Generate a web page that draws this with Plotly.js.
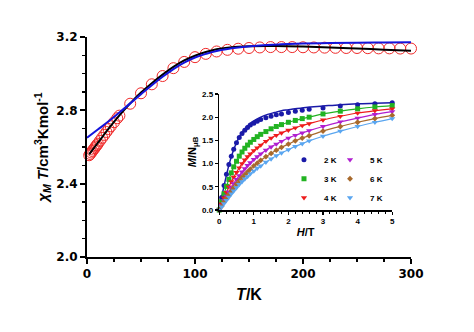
<!DOCTYPE html>
<html>
<head>
<meta charset="utf-8">
<script src="https://cdn.plot.ly/plotly-3.0.1.min.js"></script>
<style>html,body{margin:0;padding:0;background:#fff;}#chart{width:474px;height:332px;}</style>
</head>
<body>
<div id="chart"></div>
<script>
// ---- Main plot: chi_M T vs T ----
const tempK = [2,3,4,5,6,7,8,9,10,12,14,16,18,20,22,25,28,30,40,50,60,70,80,90,100,110,120,130,140,150,160,170,180,190,200,210,220,230,240,250,260,270,280,290,300];
const chiT = [2.555,2.562,2.570,2.578,2.586,2.594,2.602,2.610,2.618,2.634,2.650,2.666,2.682,2.698,2.713,2.735,2.757,2.771,2.836,2.893,2.942,2.987,3.030,3.064,3.090,3.108,3.121,3.130,3.136,3.140,3.143,3.145,3.145,3.145,3.144,3.143,3.142,3.141,3.140,3.140,3.139,3.138,3.138,3.137,3.137];
const fitT = [2,5,10,15,20,30,40,50,60,70,80,90,100,110,120,130,140,150,175,200,225,250,275,300];
const fitBlack = [2.56,2.583,2.622,2.661,2.70,2.772,2.838,2.897,2.948,2.995,3.037,3.072,3.098,3.118,3.133,3.142,3.147,3.150,3.151,3.148,3.143,3.137,3.131,3.125];
const blueT = [0,10,20,30,40,50,60,70,80,90,100,110,120,140,160,180,200,225,250,275,300];
const fitBlue = [2.65,2.695,2.74,2.788,2.838,2.888,2.937,2.983,3.025,3.06,3.088,3.108,3.124,3.143,3.154,3.16,3.164,3.167,3.169,3.17,3.171];

// ---- Inset: M vs H ----
const fieldH = [0,0.07,0.14,0.21,0.28,0.35,0.42,0.5,0.58,0.66,0.74,0.82,0.9,1.0,1.1,1.2,1.35,1.5,1.65,1.8,2.0,2.2,2.4,2.6,3.0,3.5,4.0,4.5,5.0];
const M2K = [0,0.27,0.53,0.77,0.98,1.16,1.31,1.45,1.56,1.65,1.72,1.78,1.83,1.87,1.91,1.95,1.99,2.02,2.05,2.07,2.10,2.13,2.15,2.17,2.20,2.24,2.27,2.29,2.31];
const M3K = [0,0.18,0.35,0.51,0.66,0.80,0.93,1.05,1.16,1.25,1.33,1.40,1.46,1.52,1.58,1.63,1.69,1.75,1.80,1.84,1.89,1.93,1.97,2.00,2.07,2.13,2.18,2.22,2.25];
const M4K = [0,0.13,0.26,0.38,0.50,0.61,0.71,0.81,0.91,1.00,1.08,1.15,1.21,1.28,1.34,1.40,1.48,1.55,1.61,1.66,1.72,1.77,1.82,1.86,1.94,2.02,2.09,2.14,2.18];
const M5K = [0,0.10,0.20,0.30,0.39,0.48,0.57,0.66,0.74,0.82,0.89,0.96,1.02,1.09,1.15,1.21,1.29,1.36,1.42,1.48,1.55,1.61,1.66,1.71,1.80,1.90,1.98,2.06,2.12];
const M6K = [0,0.08,0.17,0.25,0.33,0.41,0.48,0.56,0.63,0.70,0.76,0.82,0.88,0.95,1.01,1.07,1.15,1.22,1.29,1.35,1.42,1.49,1.55,1.60,1.70,1.80,1.89,1.97,2.04];
const M7K = [0,0.07,0.14,0.21,0.28,0.35,0.41,0.48,0.55,0.61,0.67,0.72,0.78,0.84,0.90,0.95,1.03,1.10,1.17,1.23,1.30,1.37,1.43,1.49,1.59,1.70,1.80,1.89,1.97];
const fitH2K = [0,0.1,0.2,0.3,0.4,0.5,0.6,0.7,0.8,0.9,1.0,1.2,1.4,1.6,1.8,2.0,2.5,3.0,3.5,4.0,4.5,5.0];
const fit2K = [0,0.38,0.72,1.02,1.26,1.45,1.60,1.71,1.80,1.87,1.92,2.00,2.06,2.10,2.14,2.16,2.21,2.24,2.27,2.29,2.30,2.31];
const seriesLabels = ['2 K','3 K','4 K','5 K','6 K','7 K'];

const colors = ['#1a1aa8','#22b322','#ee1c1c','#b01ed0','#a8692c','#5aa6f0'];
const symbols = ['circle','square','triangle-down','triangle-down','diamond','triangle-down'];
const msizes = [5,5,5.5,5.5,4.5,5.5];
const Mdata = [M2K,M3K,M4K,M5K,M6K,M7K];

const FONT = 'Arial, "Liberation Sans", sans-serif';
const TICKFONT = '"DejaVu Sans", Arial, sans-serif';
const traces = [];
traces.push({x: tempK, y: chiT, type:'scatter', mode:'markers', cliponaxis:false, showlegend:false,
  marker:{symbol:'circle-open', size:11, color:'#f02a2a', line:{width:1, color:'#f02a2a'}}});
traces.push({x: fitT, y: fitBlack, type:'scatter', mode:'lines', showlegend:false,
  line:{color:'#000000', width:2, shape:'spline'}});
traces.push({x: blueT, y: fitBlue, type:'scatter', mode:'lines', showlegend:false,
  line:{color:'#1414dc', width:2, shape:'spline'}});

// inset lines
for (let i=1;i<6;i++){
  traces.push({x: fieldH, y: Mdata[i], xaxis:'x2', yaxis:'y2', type:'scatter', mode:'lines', showlegend:false,
    line:{color:colors[i], width:1.2, shape:'spline'}});
}
traces.push({x: fitH2K, y: fit2K, xaxis:'x2', yaxis:'y2', type:'scatter', mode:'lines', showlegend:false,
  line:{color:colors[0], width:1.5, shape:'spline'}});
// inset markers
for (let i=0;i<6;i++){
  traces.push({x: fieldH, y: Mdata[i], xaxis:'x2', yaxis:'y2', type:'scatter', mode:'markers', cliponaxis:false,
    name: seriesLabels[i], legend: i<3 ? 'legend' : 'legend2',
    marker:{symbol:symbols[i], size:msizes[i], color:colors[i]}});
}

const axisCommon = {showgrid:false, zeroline:false, showline:true, linecolor:'#000', ticks:'outside', tickcolor:'#000'};

const layout = {
  width:474, height:332,
  margin:{l:87, r:63, t:37, b:75},
  paper_bgcolor:'#ffffff', plot_bgcolor:'rgba(0,0,0,0)',
  font:{family:FONT, color:'#000'},
  xaxis: Object.assign({}, axisCommon, {
    range:[0,300], tickvals:[0,100,200,300], linewidth:2, tickwidth:2, ticklen:5,
    tickfont:{family:TICKFONT, size:12, weight:'bold'},
    minor:{dtick:25, ticks:'outside', ticklen:3, tickwidth:1.5, tickcolor:'#000'},
    title:{text:'<i>T</i>/K', font:{family:FONT, size:16, weight:'bold'}, standoff:8}
  }),
  yaxis: Object.assign({}, axisCommon, {
    range:[2.0,3.2], tickvals:[2.0,2.4,2.8,3.2], ticktext:['2.0','2.4','2.8','3.2'], linewidth:2, tickwidth:2, ticklen:5,
    tickfont:{family:TICKFONT, size:12, weight:'bold'},
    minor:{dtick:0.1, ticks:'outside', ticklen:3, tickwidth:1.5, tickcolor:'#000'},
    title:{text:'<i>χ</i><sub><i>M</i></sub> <i>T</i>/cm<sup>3</sup>Kmol<sup>-1</sup>', font:{family:FONT, size:15, weight:'bold'}, standoff:4}
  }),
  xaxis2: Object.assign({}, axisCommon, {
    domain:[0.408,0.942], anchor:'y2', range:[0,5], dtick:1, linewidth:1.5, tickwidth:1.2, ticklen:3,
    tickfont:{family:FONT, size:8, weight:'bold'},
    minor:{dtick:0.2, ticks:'outside', ticklen:2, tickwidth:1, tickcolor:'#000'},
    title:{text:'<i>H</i>/T', font:{family:FONT, size:11, weight:'bold'}, standoff:3}
  }),
  yaxis2: Object.assign({}, axisCommon, {
    domain:[0.2136,0.741], anchor:'x2', range:[0,2.5], tickvals:[0,0.5,1,1.5,2,2.5], ticktext:['0.0','0.5','1.0','1.5','2.0','2.5'],
    linewidth:1.5, tickwidth:1.2, ticklen:3,
    tickfont:{family:FONT, size:8, weight:'bold'},
    title:{text:'<i>M</i>/N<sub>μB</sub>', font:{family:FONT, size:11, weight:'bold'}, standoff:3}
  }),
  legend:{x:0.608, y:0.508, xanchor:'left', yanchor:'top', bgcolor:'rgba(0,0,0,0)', borderwidth:0,
    font:{family:FONT, size:8, weight:'bold'}, tracegroupgap:0},
  legend2:{x:0.75, y:0.508, xanchor:'left', yanchor:'top', bgcolor:'rgba(0,0,0,0)', borderwidth:0,
    font:{family:FONT, size:8, weight:'bold'}, tracegroupgap:0}
};

Plotly.newPlot('chart', traces, layout, {displayModeBar:false, staticPlot:true});
</script>
</body>
</html>
